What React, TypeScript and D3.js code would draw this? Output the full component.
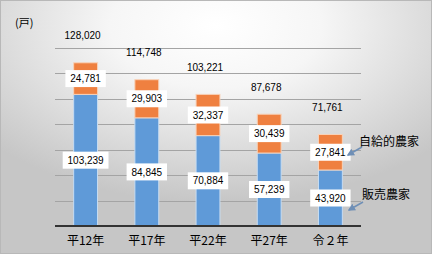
import React from "react";
import * as d3 from "d3";

const years = ["平12年", "平17年", "平22年", "平27年", "令２年"];
const hanbai = [103239, 84845, 70884, 57239, 43920];
const jikyu = [24781, 29903, 32337, 30439, 27841];
const totals = [128020, 114748, 103221, 87678, 71761];
const gridValues = [20000, 40000, 60000, 80000, 100000, 120000, 140000];

const W = 432;
const H = 254;
const blue = "#5f9ad8";
const orange = "#ef8040";
const fmt = d3.format(",");
const font = "'Liberation Sans', Arial, sans-serif";
const jfont = "'Noto Sans CJK JP', sans-serif";

const Label = ({ x, y, text }: { x: number; y: number; text: string }) => {
  const w = text.length * 5.4 + 8;
  return (
    <g>
      <rect x={x - w / 2} y={y - 8.5} width={w} height={17} fill="#fff" />
      <text x={x} y={y} dy="0.36em" textAnchor="middle" fontSize={10} fontFamily={font} fill="#000">
        {text}
      </text>
    </g>
  );
};

const App = () => {
  const x = d3.scaleBand().domain(years).range([55, 361]).paddingInner(0.61).paddingOuter(0.305);
  const y = d3.scaleLinear().domain([0, 140000]).range([226, 47.5]);
  const bw = x.bandwidth();

  return (
    <div style={{ position: "absolute", left: 0, top: 0 }}>
      <svg width={W} height={H} style={{ display: "block" }}>
        <defs>
          <radialGradient id="bg" cx="0.5" cy="0.1" r="0.7" gradientTransform="translate(0,0)">
            <stop offset="0" stopColor="#ffffff" />
            <stop offset="0.35" stopColor="#f6f6f6" />
            <stop offset="1" stopColor="#c6c6c6" />
          </radialGradient>
          <marker id="arr" viewBox="0 0 10 10" refX="8" refY="5" markerWidth="5" markerHeight="5" orient="auto">
            <path d="M0,0 L10,5 L0,10 z" fill="#6f8fb6" />
          </marker>
        </defs>
        <rect x={0.5} y={0.5} width={W - 1} height={H - 1} fill="url(#bg)" stroke="#b8b8b8" />

        <text x={15} y={23} dy="0.36em" fontSize={11} fontFamily={jfont} fill="#000">
          (戸)
        </text>

        {gridValues.map((v) => (
          <line key={v} x1={55} x2={361} y1={Math.round(y(v)) + 0.5} y2={Math.round(y(v)) + 0.5} stroke="#a4a4a4" />
        ))}

        {years.map((yr, i) => {
          const bx = x(yr)!;
          const yb = y(hanbai[i]);
          const yt = y(totals[i]);
          return (
            <g key={yr}>
              <rect x={bx} y={yb} width={bw} height={226 - yb} fill={blue} stroke="#c6dcf2" strokeWidth={1} />
              <rect x={bx} y={yt} width={bw} height={yb - yt} fill={orange} stroke="#f8d2b8" strokeWidth={1} />
            </g>
          );
        })}

        <line x1={55} x2={361} y1={226} y2={226} stroke="#333" strokeWidth={2} />

        {years.map((yr, i) => {
          const cx = x(yr)! + bw / 2;
          const yb = y(hanbai[i]);
          const yt = y(totals[i]);
          return (
            <g key={"l" + yr}>
              <Label x={cx} y={(226 + yb) / 2} text={fmt(hanbai[i])} />
              <Label x={cx} y={(yb + yt) / 2} text={fmt(jikyu[i])} />
              <text x={cx - 3} y={yt - 27} dy="0.36em" textAnchor="middle" fontSize={10} fontFamily={font} fill="#000">
                {fmt(totals[i])}
              </text>
              <text x={cx} y={241} dy="0.36em" textAnchor="middle" fontSize={12} fontFamily={jfont} fill="#000">
                {yr}
              </text>
            </g>
          );
        })}

        <text x={359} y={142} dy="0.36em" fontSize={12} fontFamily={jfont} fill="#000">
          自給的農家
        </text>
        <text x={362} y={195} dy="0.36em" fontSize={12} fontFamily={jfont} fill="#000">
          販売農家
        </text>
        <line x1={362} y1={147} x2={348} y2={155} stroke="#6f8fb6" strokeWidth={1.5} markerEnd="url(#arr)" />
        <line x1={363} y1={202} x2={349} y2={210} stroke="#6f8fb6" strokeWidth={1.5} markerEnd="url(#arr)" />
      </svg>
    </div>
  );
};

export default App;
